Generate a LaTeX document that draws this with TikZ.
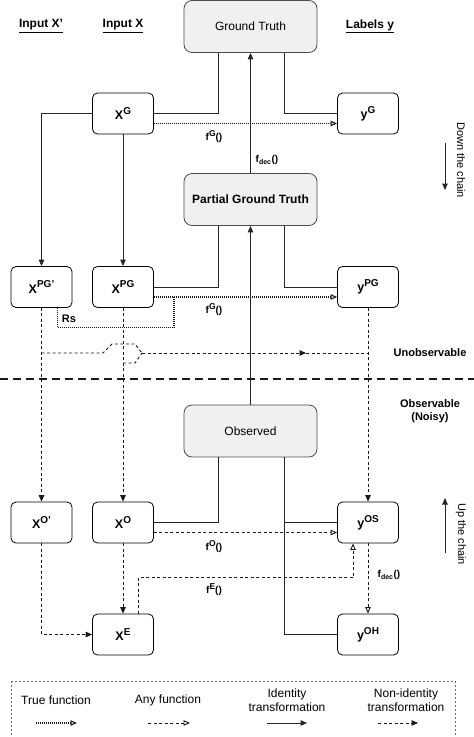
\documentclass[tikz,border=0pt]{standalone}
\usepackage{fontspec}
\setmainfont{Liberation Sans}
\usetikzlibrary{arrows.meta,calc}
\newcommand{\bigsup}[1]{\raisebox{0.42em}{\fontsize{10}{12}\selectfont #1}}
\newcommand{\smallsup}[1]{\raisebox{0.4em}{\fontsize{8.5}{10}\selectfont #1}}
\begin{document}
\begin{tikzpicture}[x=1pt,y=-1pt,
 box/.style={draw, rounded corners=5pt, minimum width=61pt, minimum height=41pt, inner sep=0pt, line width=0.8pt, font=\fontsize{12.5}{14}\selectfont\bfseries},
 bigbox/.style={draw=black!70, fill=black!6, rounded corners=8pt, minimum width=133pt, minimum height=52pt, line width=0.8pt, font=\fontsize{12}{14}\selectfont},
 head/.style={font=\fontsize{12}{14}\selectfont\bfseries},
 side/.style={font=\fontsize{11}{13}\selectfont},
 zone/.style={font=\fontsize{11}{13}\selectfont\bfseries, align=center},
 flabel/.style={font=\fontsize{10}{12}\selectfont\bfseries},
 legtext/.style={font=\fontsize{12}{14}\selectfont, align=center},
 ident/.style={draw=black!85, line width=1pt},
 fillhead/.style={-{Triangle[length=6.5pt,width=5.5pt]}},
 openhead/.style={-{Triangle[open,length=6.5pt,width=5.5pt]}},
 dotline/.style={draw=black!90, line width=1.1pt, dash pattern=on 1pt off 1pt},
 dashline/.style={draw=black!90, line width=0.9pt, dash pattern=on 3pt off 2.5pt},
 sepline/.style={draw=black!90, line width=1.6pt, dash pattern=on 8pt off 5pt},
]
\useasboundingbox (0,0) rectangle (474,737);

% big boxes
\node[bigbox] (gt) at (250.5,26.5) {Ground Truth};
\node[bigbox, font=\fontsize{12}{14}\selectfont\bfseries] (pgt) at (250.5,199.5) {Partial Ground Truth};
\node[bigbox] (obs) at (250.5,431) {Observed};

% small boxes
\node[box] (xg) at (123,113.5) {X\bigsup{G}};
\node[box] (yg) at (368,113.5) {y\bigsup{G}};
\node[box] (xpgp) at (41.5,287) {X\bigsup{PG'}};
\node[box] (xpg) at (123,287) {X\bigsup{PG}};
\node[box] (ypg) at (368,287) {y\bigsup{PG}};
\node[box] (xop) at (41.5,522.5) {X\bigsup{O'}};
\node[box] (xo) at (123,522.5) {X\bigsup{O}};
\node[box] (yos) at (368,522.5) {y\bigsup{OS}};
\node[box] (xe) at (123,634.5) {X\bigsup{E}};
\node[box] (yoh) at (368,634.5) {y\bigsup{OH}};

% headers
\node[head] (h1) at (41,26) {\underline{Input X'}};
\node[head] (h2) at (123,26) {\underline{Input X}};
\node[head] (h3) at (370,26) {\underline{Labels y}};

% side labels
\node[side, rotate=-90] (down) at (461,160) {Down the chain};
\coordinate (d1) at (445,143);
\coordinate (d2) at (445,190);
\draw[ident, fillhead] (d1) -- (d2);
\node[side, rotate=-90] (up) at (461,534) {Up the chain};
\coordinate (u1) at (445,553);
\coordinate (u2) at (445,498);
\draw[ident, fillhead] (u1) -- (u2);

\node[zone] (unobs) at (430,353) {Unobservable};
\node[zone] (obsz) at (430,411) {Observable\\(Noisy)};

% separator
\coordinate (s1) at (0,379);
\coordinate (s2) at (474,379);
\draw[sepline] (s1) -- (s2);

% ground truth level
\draw[ident] ([xshift=-32.5pt]gt.south) |- (xg.east);
\draw[ident] ([xshift=33.5pt]gt.south) |- (yg.west);
\draw[dotline, openhead] ([yshift=-10pt]xg.east) -- ([yshift=-10pt]yg.west);
\node[flabel] (fg1) at (214,137) {f\smallsup{G}()};
\draw[ident, fillhead] (pgt.north) -- (gt.south);
\node[flabel] (fd1) at (267,160) {f\textsubscript{dec}()};
\draw[ident, fillhead] (xg.west) -| (xpgp.north);
\draw[ident, fillhead] (xg.south) -- (xpg.north);

% partial level
\draw[ident] ([xshift=-32.5pt]pgt.south) |- (xpg.east);
\draw[ident] ([xshift=33.5pt]pgt.south) |- (ypg.west);
\draw[dotline, openhead] ([yshift=-10pt]xpg.east) -- ([yshift=-10pt]ypg.west);
\node[flabel] (fg2) at (214,310) {f\smallsup{G}()};
\coordinate (rsend) at (174,297);
\draw[dotline] ([xshift=16pt]xpgp.south) -- ++(0,20) -| (rsend);
\node[flabel, font=\fontsize{11}{13}\selectfont\bfseries] (rs) at (69,319) {Rs};
\draw[ident, fillhead] (obs.north) -- (pgt.south);

% unobservable crossing line with hop
\coordinate (hA) at (41.5,353);
\coordinate (hB) at (103,353);
\coordinate (hC) at (112,344);
\coordinate (hD) at (135,344);
\coordinate (hE) at (142,353);
\coordinate (hF) at (306,353);
\coordinate (hG) at (368,353);
\coordinate (hH) at (123,363);
\coordinate (hI) at (135,363);
\draw[dashline] (hA) -- (hB) -- (hC) -- (hD) -- (hE);
\draw[dashline, fillhead] (hE) -- (hF);
\draw[dashline] (hF) -- (hG);
\draw[dashline] (hH) -- (hI) -- (hE);

% down to observed
\draw[dashline, fillhead] (xpgp.south) -- (xop.north);
\draw[dashline, fillhead] (xpg.south) -- (xo.north);
\draw[dashline, fillhead] (ypg.south) -- (yos.north);

% observed level
\coordinate (obsR) at ([xshift=33.5pt]obs.south);
\draw[ident] ([xshift=-32.5pt]obs.south) |- (xo.east);
\draw[ident] (obsR) |- (yoh.west);
\draw[ident] (yos.west) -- (yos.west -| obsR);
\draw[dashline, openhead] ([yshift=-10pt]xo.east) -- ([yshift=-10pt]yos.west);
\node[flabel] (fo) at (214,547) {f\smallsup{O}()};
\draw[dashline, fillhead] (xo.south) -- (xe.north);
\draw[dashline, fillhead] (xop.south) |- (xe.west);
\draw[dashline, openhead] ([xshift=15pt]xe.north) -- ++(0,-36) -| ([xshift=-15pt]yos.south);
\node[flabel] (fe) at (214,590) {f\smallsup{E}()};
\draw[dashline, openhead] (yos.south) -- (yoh.north);
\node[flabel] (fd2) at (389,575) {f\textsubscript{dec}()};

% legend
\coordinate (lg1) at (11,681);
\coordinate (lg2) at (455,750);
\draw[draw=black!60, line width=0.8pt, dash pattern=on 2pt off 2pt] (lg1) rectangle (lg2);
\node[legtext] (l1) at (56,700) {True function};
\node[legtext] (l2) at (168,700) {Any function};
\node[legtext] (l3) at (287,700) {Identity\\transformation};
\node[legtext] (l4) at (406,700) {Non-identity\\transformation};
\coordinate (a1) at (36,723); \coordinate (b1) at (77,723);
\coordinate (a2) at (148,723); \coordinate (b2) at (190,723);
\coordinate (a3) at (267,723); \coordinate (b3) at (307,723);
\coordinate (a4) at (378,723); \coordinate (b4) at (418,723);
\draw[dotline, openhead] (a1) -- (b1);
\draw[dashline, openhead] (a2) -- (b2);
\draw[ident, fillhead] (a3) -- (b3);
\draw[dashline, fillhead] (a4) -- (b4);
\end{tikzpicture}
\end{document}
